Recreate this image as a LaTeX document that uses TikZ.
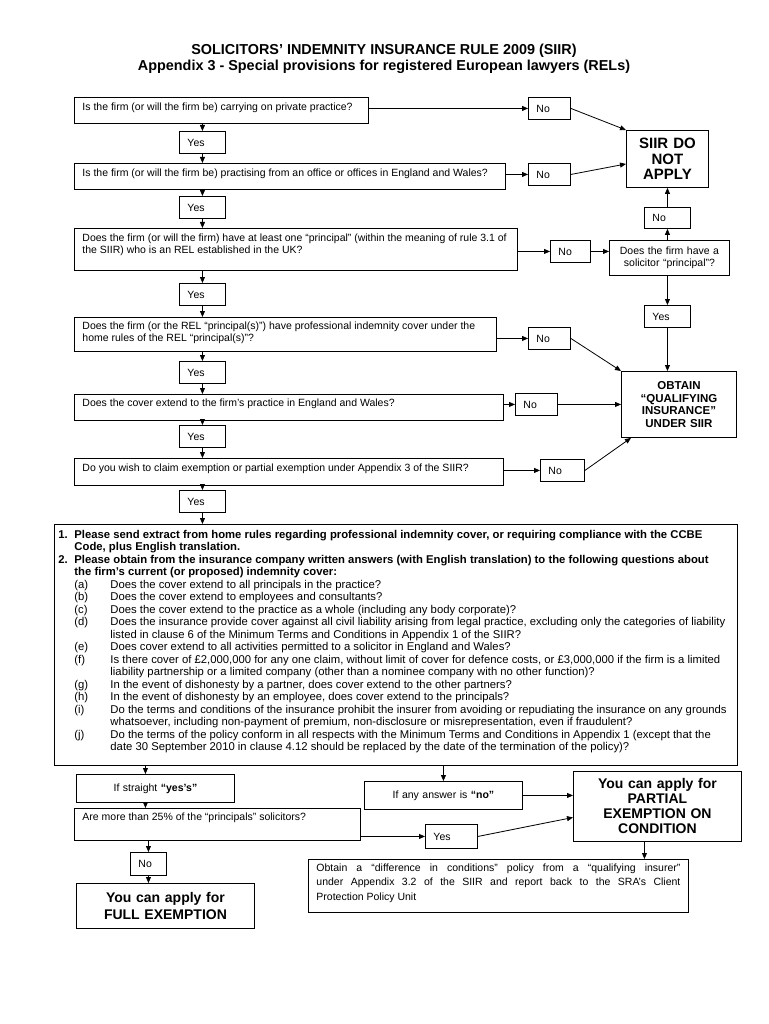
\documentclass[tikz,border=0pt]{standalone}
\usepackage{fontspec}
\setmainfont{Liberation Sans}
\usetikzlibrary{arrows.meta}
\tikzset{
  box/.style={draw, line width=0.9pt, anchor=north west, inner sep=0pt},
  arr/.style={line width=0.8pt, -{Triangle[length=6pt,width=5pt]}},
}
\newcommand\qb[7]{%
  \pgfmathsetmacro\bh{#5-#3}\pgfmathsetmacro\tw{#4-#2-16}%
  \node[box, inner xsep=8pt, inner ysep=0pt] (#1) at (#2,#3)
    {\parbox[c][\bh pt][t]{\tw pt}{\raggedright\vspace*{#6pt}#7}};}
\newcommand\smb[7][]{%
  \pgfmathsetmacro\bw{#5-#3}\pgfmathsetmacro\bh{#6-#4}\pgfmathsetmacro\tw{#5-#3-16}%
  \node[box, inner xsep=8pt, minimum width=\bw pt, minimum height=\bh pt, text width=\tw pt, align=left, #1] (#2) at (#3,#4) {#7};}
\begin{document}
\begin{tikzpicture}[x=1pt,y=-1pt, font=\fontsize{10.5}{12.5}\selectfont]
\useasboundingbox (0,0) rectangle (768,1024);
\fill[white] (0,0) rectangle (768,1024);

\node[font=\bfseries\fontsize{14.4}{16}\selectfont, align=center] (title) at (384,59)
  {SOLICITORS' INDEMNITY INSURANCE RULE 2009 (SIIR)\\Appendix 3 - Special provisions for registered European lawyers (RELs)};

% left column questions
\qb{q1}{74}{97}{368}{123}{5.5}{Is the firm (or will the firm be) carrying on private practice?}
\smb{yes1}{179}{131}{225}{153}{Yes}
\qb{q2}{74}{163}{505}{189}{5.5}{Is the firm (or will the firm be) practising from an office or offices in England and Wales?}
\smb{yes2}{179}{196}{225}{218}{Yes}
\qb{q3}{74}{228}{517}{270}{5}{Does the firm (or will the firm) have at least one “principal” (within the meaning of rule 3.1 of\\the SIIR) who is an REL established in the UK?}
\smb{yes3}{179}{283}{225}{305}{Yes}
\qb{q4}{74}{317}{496}{351}{4}{Does the firm (or the REL “principal(s)”) have professional indemnity cover under the\\home rules of the REL “principal(s)”?}
\smb{yes4}{179}{361}{225}{383}{Yes}
\qb{q5}{74}{394}{503}{420}{4.5}{Does the cover extend to the firm’s practice in England and Wales?}
\smb{yes5}{179}{425}{225}{447}{Yes}
\qb{q6}{74}{458}{503}{485}{5}{Do you wish to claim exemption or partial exemption under Appendix 3 of the SIIR?}
\smb{yes6}{179}{490}{225}{512}{Yes}

% No boxes
\smb{no1}{528}{97}{570}{119}{No}
\smb{no2}{528}{163}{570}{185}{No}
\smb{no3}{550}{240}{590}{262}{No}
\smb{no4}{528}{327}{570}{349}{No}
\smb{no5}{515}{393}{557}{415}{No}
\smb{no6}{540}{459}{584}{481}{No}

% right column
\smb[align=center, font=\bfseries\fontsize{15}{15.5}\selectfont]{siir}{626}{130}{708}{187}{SIIR DO\\NOT\\APPLY}
\smb{nor}{644}{207}{690}{228}{No}
\smb[align=center]{doesf}{609}{240}{729}{275}{Does the firm have a\\solicitor “principal”?}
\smb{yesr}{644}{305}{690}{327}{Yes}
\smb[align=center, font=\bfseries\fontsize{11.5}{12.8}\selectfont]{obtain}{621}{371}{736}{437}{OBTAIN\\“QUALIFYING\\INSURANCE”\\UNDER SIIR}

% big box
\node[box] (big) at (54,524) {\parbox[c][241pt][t]{683pt}{\vspace*{5pt}\fontsize{11.3}{12.5}\selectfont
\begin{tabular}{@{\hspace{4pt}}p{16pt}@{}p{36pt}@{}l@{}}
\textbf{1.} & \multicolumn{2}{@{}l@{}}{\textbf{Please send extract from home rules regarding professional indemnity cover, or requiring compliance with the CCBE}}\\
 & \multicolumn{2}{@{}l@{}}{\textbf{Code, plus English translation.}}\\
\textbf{2.} & \multicolumn{2}{@{}l@{}}{\textbf{Please obtain from the insurance company written answers (with English translation) to the following questions about}}\\
 & \multicolumn{2}{@{}l@{}}{\textbf{the firm’s current (or proposed) indemnity cover:}}\\
 & (a) & Does the cover extend to all principals in the practice?\\
 & (b) & Does the cover extend to employees and consultants?\\
 & (c) & Does the cover extend to the practice as a whole (including any body corporate)?\\
 & (d) & Does the insurance provide cover against all civil liability arising from legal practice, excluding only the categories of liability\\
 & & listed in clause 6 of the Minimum Terms and Conditions in Appendix 1 of the SIIR?\\
 & (e) & Does cover extend to all activities permitted to a solicitor in England and Wales?\\
 & (f) & Is there cover of £2,000,000 for any one claim, without limit of cover for defence costs, or £3,000,000 if the firm is a limited\\
 & & liability partnership or a limited company (other than a nominee company with no other function)?\\
 & (g) & In the event of dishonesty by a partner, does cover extend to the other partners?\\
 & (h) & In the event of dishonesty by an employee, does cover extend to the principals?\\
 & (i) & Do the terms and conditions of the insurance prohibit the insurer from avoiding or repudiating the insurance on any grounds\\
 & & whatsoever, including non-payment of premium, non-disclosure or misrepresentation, even if fraudulent?\\
 & (j) & Do the terms of the policy conform in all respects with the Minimum Terms and Conditions in Appendix 1 (except that the\\
 & & date 30 September 2010 in clause 4.12 should be replaced by the date of the termination of the policy)?
\end{tabular}}};

% bottom
\smb[align=center]{straight}{76}{774}{234}{802}{If straight \textbf{“yes’s”}}
\smb[align=center]{anyno}{364}{781}{522}{809}{If any answer is \textbf{“no”}}
\smb[align=center, font=\bfseries\fontsize{14}{15}\selectfont]{partial}{573}{771}{741}{841}{You can apply for\\PARTIAL\\EXEMPTION ON\\CONDITION}
\qb{are}{74}{808}{360}{840}{4}{Are more than 25\% of the “principals” solicitors?}
\smb{yesb}{425}{824}{477}{848}{Yes}
\smb{nob}{130}{852}{166}{875}{No}
\smb[align=center, font=\bfseries\fontsize{14}{17}\selectfont]{full}{76}{883}{254}{928}{You can apply for\\FULL EXEMPTION}
\qb{obtaind}{308}{859}{688}{912}{4}{\fontsize{10.5}{14.5}\selectfont\makebox[\linewidth][s]{Obtain a “difference in conditions” policy from a “qualifying insurer”}\\\makebox[\linewidth][s]{under Appendix 3.2 of the SIIR and report back to the SRA’s Client}\\Protection Policy Unit}

% vertical chain
\draw[arr] (yes1.north |- q1.south) -- (yes1.north);
\draw[arr] (yes1.south) -- (yes1.south |- q2.north);
\draw[arr] (yes2.north |- q2.south) -- (yes2.north);
\draw[arr] (yes2.south) -- (yes2.south |- q3.north);
\draw[arr] (yes3.north |- q3.south) -- (yes3.north);
\draw[arr] (yes3.south) -- (yes3.south |- q4.north);
\draw[arr] (yes4.north |- q4.south) -- (yes4.north);
\draw[arr] (yes4.south) -- (yes4.south |- q5.north);
\draw[arr] (yes5.north |- q5.south) -- (yes5.north);
\draw[arr] (yes5.south) -- (yes5.south |- q6.north);
\draw[arr] (yes6.north |- q6.south) -- (yes6.north);
\draw[arr] (yes6.south) -- (yes6.south |- big.north);

% no branches
\draw[arr] (q1.east |- no1.west) -- (no1.west);
\draw[arr] (no1.east) -- (siir.north west);
\draw[arr] (q2.east |- no2.west) -- (no2.west);
\draw[arr] (no2.east) -- ([yshift=-5pt]siir.west);
\draw[arr] (q3.east |- no3.west) -- (no3.west);
\draw[arr] (no3.east) -- (doesf.west |- no3.east);
\draw[arr] (nor.south |- doesf.north) -- (nor.south);
\draw[arr] (nor.north) -- (nor.north |- siir.south);
\draw[arr] (yesr.north |- doesf.south) -- (yesr.north);
\draw[arr] (yesr.south) -- (yesr.south |- obtain.north);
\draw[arr] (q4.east |- no4.west) -- (no4.west);
\draw[arr] (no4.east) -- (obtain.north west);
\draw[arr] (q5.east |- no5.west) -- (no5.west);
\draw[arr] (no5.east) -- (obtain.west |- no5.east);
\draw[arr] (q6.east |- no6.west) -- (no6.west);
\draw[arr] (no6.east) -- ([xshift=10pt]obtain.south west);

% bottom arrows
\draw[arr] ([xshift=-10pt]straight.north |- big.south) -- ([xshift=-10pt]straight.north);
\draw[arr] (anyno.north |- big.south) -- (anyno.north);
\draw[arr] (anyno.east) -- (partial.west |- anyno.east);
\draw[arr] ([xshift=-10pt]straight.south) -- ([xshift=-10pt]straight.south |- are.north);
\draw[arr] (are.east |- yesb.west) -- (yesb.west);
\draw[arr] (yesb.east) -- ([yshift=-11pt]partial.west);
\draw[arr] (nob.north |- are.south) -- (nob.north);
\draw[arr] (nob.south) -- (nob.south |- full.north);
\draw[arr] ([xshift=-13pt]partial.south) -- ([xshift=-13pt]partial.south |- obtaind.north);
\end{tikzpicture}
\end{document}
